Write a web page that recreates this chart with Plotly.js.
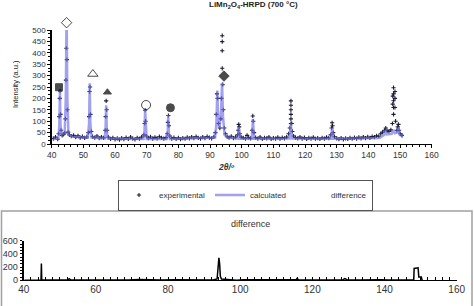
<!DOCTYPE html>
<html><head><meta charset="utf-8">
<script src="https://cdn.plot.ly/plotly-3.0.1.min.js"></script>
<style>html,body{margin:0;padding:0;background:#fff}#c{width:474px;height:306px}</style>
</head><body><div id="c"></div>
<script>
// Experimental points (2θ, intensity)
const expX = [40.5,41.2,41.9,42.2,42.4,42.55,42.65,42.8,42.95,43.3,43.7,44.1,44.35,44.5,44.6,44.8,44.95,45.2,45.6,46.2,46.9,47.6,48.3,49.0,49.7,50.4,51.1,51.6,51.8,51.95,52.1,52.25,52.5,52.9,53.6,54.3,55.0,55.7,56.4,56.9,57.05,57.2,57.35,57.5,57.9,58.6,59.3,60.0,60.7,61.4,62.1,62.8,63.5,64.2,64.9,65.6,66.3,67.0,67.7,68.4,69.1,69.35,69.5,69.65,69.9,70.5,71.2,71.9,72.6,73.3,74.0,74.7,75.4,76.1,76.5,76.7,76.85,77.0,77.3,77.9,78.6,79.3,80.0,80.7,81.4,82.1,82.8,83.5,84.2,84.9,85.6,86.3,87.0,87.7,88.4,89.1,89.8,90.5,91.2,91.7,92.0,92.2,92.4,92.7,93.1,93.4,93.6,93.85,93.85,93.85,93.85,94.0,94.2,94.5,94.9,95.4,96.0,96.7,97.4,98.1,98.7,98.9,99.05,99.2,99.4,99.8,100.5,101.2,101.7,102.2,102.8,103.3,103.5,103.65,103.9,104.4,105.1,105.8,106.5,107.2,107.9,108.6,109.3,110.0,110.7,111.4,112.1,112.8,113.5,114.2,114.8,115.2,115.55,115.55,115.55,115.55,115.55,115.55,115.8,116.0,116.4,117.0,117.7,118.4,119.1,119.8,120.5,121.2,121.9,122.6,123.3,124.0,124.7,125.4,126.1,126.8,127.5,128.1,128.4,128.55,128.7,128.9,129.3,130.0,130.7,131.4,132.1,132.8,133.5,134.2,134.9,135.6,136.3,137.0,137.7,138.4,139.1,139.8,140.5,141.2,141.9,142.6,143.3,143.9,144.5,145.1,145.5,145.9,146.5,147.1,147.6,147.7,147.7,147.95,147.95,147.95,147.95,147.95,148.4,148.4,148.4,148.6,149.0,149.3,149.5,149.7,150.1,150.6];
const expY = [24,30,21,45,120,200,232,130,60,38,42,48,110,280,420,370,150,52,40,34,38,30,36,28,33,27,31,50,120,230,250,130,55,32,28,35,26,30,27,60,120,189,150,60,30,22,27,20,25,19,26,21,28,22,30,24,20,27,23,30,40,90,148,100,35,26,31,24,29,25,32,27,24,28,45,95,125,80,35,24,28,22,27,21,26,23,29,25,30,26,32,27,24,30,26,33,28,25,31,50,130,220,200,90,70,110,200,332,409,449,475,260,150,70,45,32,28,34,26,30,40,60,86,75,45,30,27,24,38,28,25,60,123,100,50,28,24,30,22,27,25,30,22,26,24,29,23,28,25,30,45,70,189,170,150,130,110,90,90,55,35,28,25,30,24,28,22,27,24,29,23,26,22,27,24,29,26,40,70,93,80,50,32,25,21,26,20,25,22,27,23,28,24,29,25,30,26,31,27,33,30,36,34,45,52,60,70,58,55,62,90,210,175,247,220,190,160,130,230,200,160,100,60,75,86,60,45,38];

// Calculated profile
const calcX = [40.5,42.1,42.4,42.6,42.8,43.2,44.1,44.45,44.7,44.95,45.3,46.5,51.4,51.8,52.0,52.2,52.6,56.7,57.0,57.2,57.4,57.7,69.0,69.3,69.5,69.7,70.0,76.3,76.6,76.8,77.0,77.3,91.6,92.0,92.3,92.6,93.0,93.5,93.8,94.1,94.6,95.5,98.8,99.1,99.4,103.2,103.55,103.9,115.1,115.5,115.9,128.2,128.55,128.9,143.5,145.0,145.4,145.8,147.4,147.9,148.4,149.1,149.5,149.9,151.0];
const calcY = [22,24,80,235,80,40,48,200,580,200,42,32,28,90,266,90,28,24,60,170,60,24,22,55,150,55,22,22,45,127,45,22,28,90,234,90,70,150,269,120,40,28,24,75,24,23,110,23,24,90,24,23,70,23,26,40,60,42,45,62,47,50,70,40,32];

// Difference curve
const diffX = [40.2,41.0,41.5,43.5,44.2,44.8,44.9,45.0,45.5,50.0,52.3,52.6,53.0,56.0,60.0,64.0,68.0,69.0,72.0,74.0,78.0,82.0,86.0,90.0,92.5,93.6,93.9,94.1,94.3,94.5,94.8,96.0,98.5,99.0,101.0,105.0,110.0,115.5,115.8,116.1,120.0,124.0,128.5,129.0,129.6,133.0,137.0,139.0,141.0,144.0,147.0,148.1,148.2,149.2,149.3,149.5,150.2,150.4,150.6];
const diffY = [0,0,8,10,5,5,255,5,5,5,8,25,8,5,3,6,10,4,12,6,5,10,8,10,6,20,200,339,250,60,20,15,10,0,8,10,6,10,30,8,5,6,10,25,10,6,12,8,3,5,5,5,180,180,190,50,50,3,0];

// Phase reflection markers
const phaseX = [42.3,44.7,53.0,57.6,69.8,77.5,94.4];
const phaseY = [249,532,307,227,171,159,298];
const phaseSym = ['square','diamond-open','triangle-up-open','triangle-up','circle-open','circle','diamond'];

const xTicks = [40,50,60,70,80,90,100,110,120,130,140,150,160];
const yTicks = [0,50,100,150,200,250,300,350,400,450,500];
const dxTicks = [40,60,80,100,120,140,160];
const dyTicks = [0,200,400,600];

const F = 'Liberation Sans, Arial, sans-serif';
const traces = [
  {x: expX, y: expY, type:'scatter', mode:'markers', name:'experimental',
   marker:{symbol:'cross-thin-open', size:3, color:'#1c1c38', line:{width:1.1, color:'#1c1c38'}}, xaxis:'x', yaxis:'y'},
  {x: calcX, y: calcY, type:'scatter', mode:'lines', name:'calculated',
   line:{color:'rgba(110,110,230,0.65)', width:2.5}, xaxis:'x', yaxis:'y'},
  {x: diffX, y: diffY, type:'scatter', mode:'lines', name:'difference',
   line:{color:'rgba(0,0,0,0)', width:1}, xaxis:'x', yaxis:'y', hoverinfo:'skip'},
  {x: phaseX, y: phaseY, type:'scatter', mode:'markers', showlegend:false,
   marker:{symbol:phaseSym, size:[7,8,9,7,9,8,8], color:'#000', line:{width:1, color:'#000'}}, xaxis:'x', yaxis:'y3'},
  {x: diffX, y: diffY, type:'scatter', mode:'lines', showlegend:false,
   line:{color:'#000', width:1.5}, xaxis:'x2', yaxis:'y2'}
];

const layout = {
  width:474, height:306, margin:{l:0,r:0,t:0,b:0},
  paper_bgcolor:'#fff', plot_bgcolor:'rgba(0,0,0,0)',
  font:{family:F, size:8, color:'#333'},
  xaxis:{domain:[51.7/474, 431.7/474], range:[40,160], tickvals:xTicks, ticktext:xTicks.map(String),
    showgrid:false, zeroline:false, showline:true, linecolor:'#000', linewidth:1,
    ticks:'outside', ticklen:3, tickcolor:'#000', tickfont:{size:8.5, color:'#333'},
    minor:{dtick:2, ticks:'outside', ticklen:2, tickcolor:'#000'}, automargin:false, anchor:'y'},
  yaxis:{domain:[162/306, 276/306], range:[0,500], tickvals:yTicks, ticktext:yTicks.map(String),
    showgrid:false, zeroline:false, showline:true, linecolor:'#000', linewidth:1.5,
    ticks:'outside', ticklen:3, tickcolor:'#000', tickfont:{size:8, color:'#333'},
    minor:{dtick:50/3, ticks:'outside', ticklen:2, tickcolor:'#000'}, automargin:false, anchor:'x'},
  // same scale as yaxis but taller domain so markers above the frame stay visible
  yaxis3:{domain:[162/306, 290/306], range:[0, 128/0.228], visible:false, showgrid:false, zeroline:false,
    automargin:false, anchor:'x'},
  xaxis2:{domain:[23.7/474, 456.7/474], range:[40,160], tickvals:dxTicks, ticktext:dxTicks.map(String),
    showgrid:false, zeroline:false, showline:true, linecolor:'#000', linewidth:1,
    ticks:'inside', ticklen:3, tickcolor:'#000', tickfont:{size:10, color:'#333'},
    minor:{dtick:2, ticks:'inside', ticklen:3, tickcolor:'#000'}, automargin:false, anchor:'y2'},
  yaxis2:{domain:[25.7/306, 65.3/306], range:[0,600], tickvals:dyTicks, ticktext:dyTicks.map(String),
    showgrid:false, zeroline:false, showline:true, linecolor:'#000', linewidth:2,
    ticks:'outside', ticklen:2, tickcolor:'#000', tickfont:{size:9, color:'#333'},
    minor:{dtick:50, ticks:'outside', ticklen:2, tickcolor:'#000'}, automargin:false, anchor:'x2'},
  showlegend:true,
  legend:{orientation:'h', x:118/474, xanchor:'left', y:(306-179.5)/306, yanchor:'top',
    bordercolor:'#555', borderwidth:1, bgcolor:'#fff', font:{size:8, color:'#333'}},
  shapes:[{type:'rect', xref:'paper', yref:'paper', x0:1.5/474, x1:472/474, y0:-0.05, y1:(306-211)/306,
    line:{color:'#a0a0a0', width:1.5}}],
  annotations:[
    {text:'<b>LiMn<sub>2</sub>O<sub>4</sub>-HRPD (700 °C)</b>', xref:'paper', yref:'paper', x:253/474, y:(306-5)/306,
     xanchor:'center', yanchor:'middle', showarrow:false, font:{size:8, color:'#222'}},
    {text:'<b><i>2θ/º</i></b>', xref:'paper', yref:'paper', x:226/474, y:(306-167)/306,
     xanchor:'center', yanchor:'middle', showarrow:false, font:{size:8.5, color:'#333'}},
    {text:'Intensity (a.u.)', xref:'paper', yref:'paper', x:15/474, y:(306-84)/306, textangle:-90,
     xanchor:'center', yanchor:'middle', showarrow:false, font:{size:7.5, color:'#222'}},
    {text:'difference', xref:'paper', yref:'paper', x:250/474, y:(306-223.5)/306,
     xanchor:'center', yanchor:'middle', showarrow:false, font:{size:9, color:'#333'}}
  ]
};
Plotly.newPlot('c', traces, layout, {staticPlot:true, displayModeBar:false});
</script></body></html>
